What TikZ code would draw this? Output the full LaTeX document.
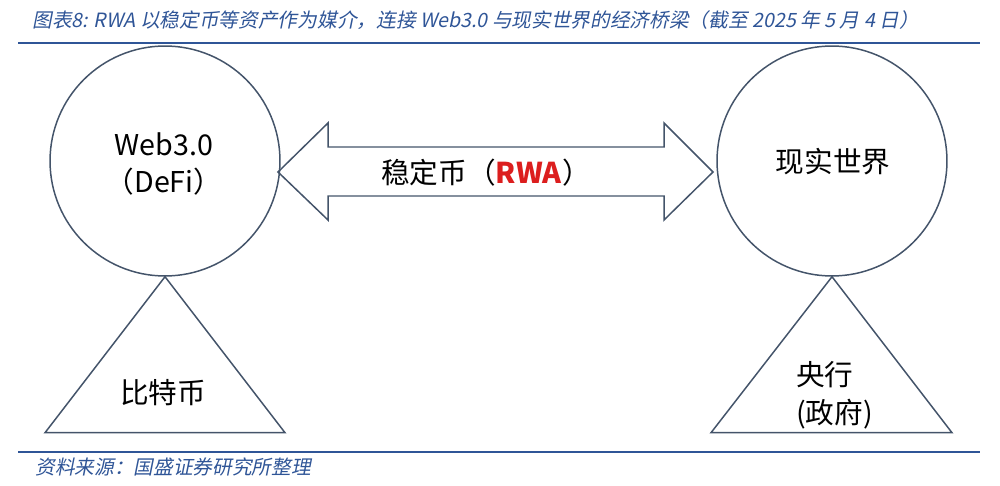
\documentclass[tikz,border=0pt]{standalone}
\usepackage{fontspec}
\setmainfont{Noto Sans CJK SC}
\newfontfamily\titlefont[FakeSlant=0.2]{Noto Sans CJK SC}
\usepackage{tikz}
\usetikzlibrary{positioning}
\definecolor{shapeline}{RGB}{68,84,106}
\definecolor{titleblue}{RGB}{47,85,151}
\definecolor{rwared}{RGB}{220,30,30}
\tikzset{
        world/.style={circle, draw=shapeline, line width=0.85pt, minimum size=4.6cm, inner sep=0pt}, % the two big circles
        base/.style={draw=shapeline, line width=0.85pt, line join=miter},
        body/.style={font=\fontsize{16.3}{21.5}\selectfont, text=black},
        caption/.style={font=\titlefont\fontsize{11.2}{13}\selectfont, text=titleblue, anchor=west, inner sep=0pt},
        rule/.style={draw=titleblue, line width=1.1pt},
}

\begin{document}
\begin{tikzpicture}[x=0.02cm, y=-0.02cm]
\useasboundingbox (0,0) rectangle (1000,486);
\node[caption] (title) at (32,20) {图表8: RWA 以稳定币等资产作为媒介，连接 Web3.0 与现实世界的经济桥梁（截至 2025 年 5 月 4 日）};
\draw[rule] (18,43) -- (980,43);

\node[world] (web) at (165,161) {};
\node[world] (real) at (832,161) {};
\node[body, align=center] (webtext) at (164,164) {Web3.0\\（DeFi）};
\node[body] (realtext) at (833,162) {现实世界};

% triangles hang from the circles
\draw[base] (web.south) -- ++(-120,156) -- ++(240,0) -- cycle;
\draw[base] (real.south) -- ++(-121,156) -- ++(241,0) -- cycle;
\node[body] (btc) at (163,393) {比特币};
\node[body, align=left, anchor=west] (bank) at (790,395) {央行\\(政府)};

% double arrow between the circles
\coordinate (ltip) at (278,172);
\coordinate (rtip) at (713,172);
\draw[base] (ltip) -- (328,123) -- (328,147) -- (664,147) -- (664,123) -- (rtip)
        -- (664,220) -- (664,196) -- (328,196) -- (328,220) -- cycle;
\node[body] (coin) at (486,173) {稳定币（\textcolor{rwared}{\textbf{RWA}}）};

\draw[rule] (18,452) -- (980,452);
\node[caption] (source) at (35,467) {资料来源：国盛证券研究所整理};
\end{tikzpicture}
\end{document}
